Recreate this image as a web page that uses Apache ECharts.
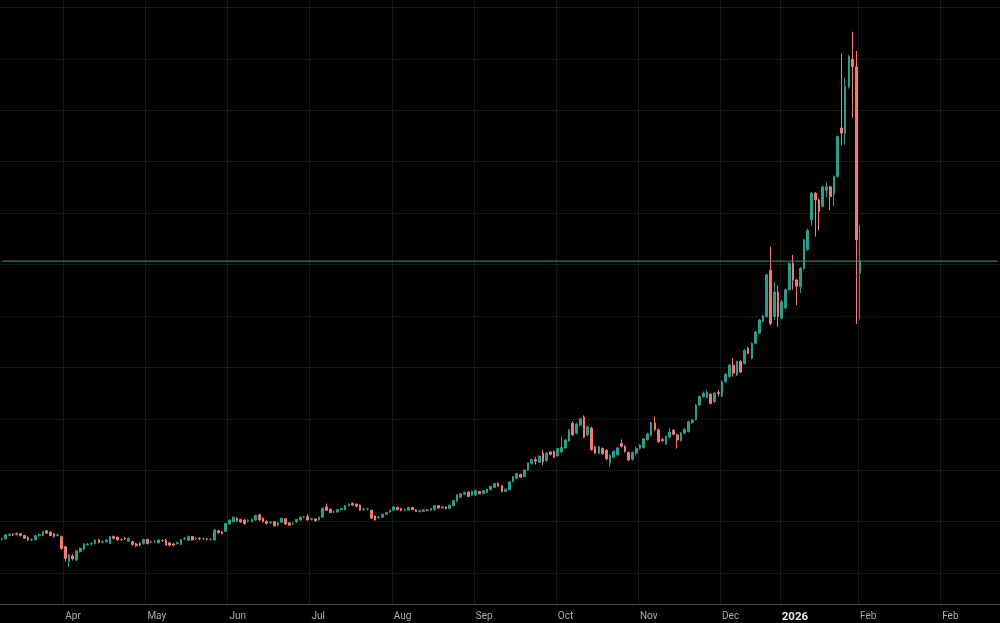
<!DOCTYPE html>
<html>
<head>
<meta charset="utf-8">
<script src="https://cdn.jsdelivr.net/npm/echarts@6/dist/echarts.min.js"></script>
<style>
  html, body { margin: 0; padding: 0; background: #000; }
  #main { width: 1000px; height: 623px; }
</style>
</head>
<body>
<div id="main"></div>
<script>
// daily bars, each row is [open, close, low, high]
const candles = [
  [32.9, 33.0, 32.7, 33.2], [33.0, 33.7, 32.9, 33.8], [33.6, 33.8, 33.5, 34.0], [33.8, 33.7, 33.5, 34.0],
  [33.9, 33.8, 33.6, 34.1], [33.9, 33.6, 33.4, 34.0], [33.6, 33.1, 33.0, 33.7], [33.3, 32.8, 32.6, 33.4],
  [32.8, 32.9, 32.6, 33.1], [32.85, 33.55, 32.7, 33.7], [33.6, 33.7, 33.4, 33.9], [33.6, 34.3, 33.5, 34.4],
  [34.4, 34.0, 33.9, 34.6], [34.2, 33.6, 33.5, 34.3], [33.9, 33.4, 33.2, 34.0], [33.6, 33.7, 33.4, 33.9],
  [33.4, 31.3, 31.1, 33.6], [31.6, 29.6, 29.0, 31.8], [29.0, 30.2, 28.1, 30.4], [30.0, 29.5, 29.2, 30.3],
  [29.3, 30.9, 29.1, 31.0], [30.75, 31.35, 30.6, 31.5], [31.2, 32.1, 31.0, 32.3], [32.0, 32.1, 31.8, 32.3],
  [32.1, 32.2, 31.9, 32.4], [32.2, 32.8, 32.0, 32.9], [32.8, 32.4, 32.2, 33.0], [32.4, 32.5, 32.2, 32.7],
  [32.5, 32.8, 32.4, 33.0], [32.2, 33.4, 32.1, 33.5], [33.4, 33.1, 32.9, 33.6], [33.3, 32.8, 32.7, 33.4],
  [32.8, 32.9, 32.6, 33.1], [33.1, 33.0, 32.8, 33.3], [32.6, 33.1, 32.5, 33.2],
  // May
  [32.5, 32.0, 31.8, 32.7], [32.1, 31.8, 31.6, 32.3], [32.2, 31.9, 31.7, 32.4], [32.2, 32.9, 32.0, 33.0],
  [32.9, 32.2, 32.0, 33.0], [32.4, 32.5, 32.2, 32.7], [32.5, 32.5, 32.3, 32.8], [32.3, 32.8, 32.2, 33.0],
  [32.7, 32.7, 32.5, 32.9], [32.8, 31.9, 31.8, 33.0], [32.3, 31.9, 31.7, 32.4], [32.1, 31.9, 31.7, 32.3],
  [32.2, 32.3, 32.0, 32.5], [32.0, 32.9, 31.9, 33.0], [33.0, 33.1, 32.8, 33.3], [32.7, 33.4, 32.6, 33.6],
  [33.4, 32.8, 32.7, 33.5], [33.0, 33.1, 32.8, 33.3], [33.1, 33.0, 32.8, 33.3], [33.0, 33.0, 32.8, 33.2],
  [33.0, 32.9, 32.7, 33.1], [32.9, 32.9, 32.7, 33.1], [32.8, 34.55, 32.7, 34.7], [34.4, 34.1, 33.9, 34.6],
  [34.2, 33.9, 33.8, 34.4], [34.3, 35.7, 34.2, 35.8], [35.6, 36.3, 35.5, 36.4], [36.0, 36.75, 35.9, 36.9],
  [36.6, 36.2, 36.0, 36.8], [36.4, 36.0, 35.8, 36.5], [36.3, 35.7, 35.5, 36.4], [36.1, 36.2, 35.9, 36.4],
  [36.0, 36.4, 35.9, 36.5],
  // late June - Aug
  [36.3, 37.1, 36.2, 37.2], [37.2, 36.3, 36.2, 37.4], [36.6, 36.0, 35.9, 36.8], [36.1, 35.7, 35.5, 36.2],
  [35.8, 35.9, 35.6, 36.1], [36.0, 35.3, 35.2, 36.1], [35.4, 35.8, 35.2, 36.0], [35.9, 36.6, 35.8, 36.7],
  [36.5, 35.6, 35.4, 36.6], [35.8, 35.4, 35.3, 35.9], [35.6, 35.7, 35.4, 35.9], [36.0, 36.4, 35.8, 36.5],
  [36.3, 36.8, 36.2, 36.9], [36.8, 36.8, 36.6, 37.0], [36.9, 36.3, 36.2, 37.3], [36.4, 36.5, 36.2, 36.7],
  [36.5, 36.2, 36.0, 36.6], [36.3, 36.8, 36.2, 36.9], [36.8, 38.35, 36.7, 38.5], [38.6, 38.0, 37.9, 39.2],
  [38.2, 37.6, 37.5, 38.3], [37.7, 37.7, 37.5, 37.9], [37.7, 38.1, 37.6, 38.2], [38.1, 38.3, 38.0, 38.4],
  [38.1, 38.8, 38.0, 38.9], [38.8, 39.05, 38.7, 39.2], [39.2, 38.9, 38.8, 39.4], [39.1, 38.7, 38.5, 39.2],
  [38.9, 38.0, 37.9, 39.0], [38.1, 38.2, 37.9, 38.4], [38.2, 38.2, 38.0, 38.4], [38.0, 36.6, 36.5, 38.1],
  [37.0, 36.3, 36.2, 37.1], [36.7, 36.8, 36.5, 37.0], [36.8, 37.3, 36.7, 37.4], [37.3, 37.6, 37.2, 37.7],
  [37.7, 38.0, 37.6, 38.1], [38.0, 38.6, 37.9, 38.7], [38.5, 38.1, 38.0, 38.7],
  // Aug - Sep
  [38.3, 38.0, 37.8, 38.4], [38.0, 38.1, 37.8, 38.3], [38.0, 38.5, 37.9, 38.6], [38.5, 38.1, 38.0, 38.6],
  [38.1, 37.8, 37.7, 38.2], [37.8, 37.9, 37.6, 38.1], [37.8, 38.1, 37.7, 38.2], [38.0, 38.0, 37.8, 38.2],
  [38.0, 38.3, 37.9, 38.4], [38.1, 38.8, 38.0, 38.9], [38.8, 38.4, 38.3, 38.9], [38.4, 38.6, 38.3, 38.8],
  [38.6, 38.3, 38.2, 38.7], [38.3, 38.9, 38.2, 39.0], [38.8, 39.7, 38.7, 39.8], [39.6, 40.7, 39.5, 40.8],
  [40.3, 40.9, 40.2, 41.0], [40.8, 41.1, 40.6, 41.3], [41.2, 40.4, 40.3, 41.3], [40.6, 41.3, 40.5, 41.4],
  [40.7, 41.4, 40.5, 41.7], [41.3, 40.9, 40.8, 41.4], [40.9, 41.4, 40.8, 41.5], [41.1, 41.7, 41.0, 41.8],
  [41.6, 42.2, 41.5, 42.3], [42.0, 42.7, 41.9, 42.8], [42.7, 42.2, 42.1, 42.9], [42.3, 41.3, 41.1, 42.4],
  [41.3, 41.7, 41.2, 41.8], [41.6, 43.0, 41.5, 43.1], [43.0, 43.9, 42.9, 44.0], [43.6, 44.4, 43.5, 44.5],
  [44.3, 43.8, 43.7, 44.4], [43.9, 45.05, 43.8, 45.2], [45.05, 46.3, 44.9, 46.4], [46.2, 46.9, 46.0, 47.0],
  [46.9, 46.6, 46.0, 47.3], [46.4, 47.5, 46.3, 47.6],
  // Oct - Nov
  [48.0, 46.5, 45.9, 48.6], [46.7, 48.0, 46.5, 48.2], [48.2, 47.8, 47.6, 48.4], [48.3, 47.3, 47.1, 48.5],
  [47.5, 48.8, 47.4, 48.9], [48.2, 49.0, 48.0, 50.9], [48.9, 50.3, 48.8, 50.5], [50.1, 52.0, 50.0, 52.2],
  [53.2, 51.2, 51.0, 53.6], [51.5, 53.1, 51.3, 53.3], [52.9, 54.0, 52.7, 54.2], [54.3, 50.8, 50.6, 54.6],
  [51.2, 52.6, 51.0, 52.8], [52.4, 48.6, 48.4, 52.6], [49.1, 48.0, 47.8, 49.3], [48.0, 49.1, 47.8, 49.3],
  [48.8, 47.9, 47.7, 49.0], [48.5, 47.0, 46.8, 48.7], [46.3, 47.6, 45.6, 47.8], [47.3, 48.3, 47.1, 48.5],
  [47.7, 48.9, 47.5, 49.1], [49.7, 49.2, 49.0, 50.4], [49.2, 48.3, 48.1, 49.4], [48.1, 46.8, 46.6, 48.3],
  [46.9, 48.1, 46.7, 48.3], [48.0, 48.8, 47.6, 49.2], [48.8, 49.4, 48.6, 49.6], [49.0, 50.5, 48.8, 50.7],
  [50.4, 51.4, 50.2, 51.6], [51.1, 53.3, 50.9, 53.5], [53.3, 52.1, 51.9, 54.4], [52.1, 50.0, 49.8, 52.3],
  [50.4, 50.2, 50.0, 50.6], [49.6, 50.9, 49.4, 51.1], [50.8, 51.7, 50.6, 52.4], [52.0, 51.3, 51.1, 52.2],
  [51.2, 50.3, 48.8, 51.4], [50.2, 51.5, 50.0, 51.7], [51.5, 52.2, 51.3, 52.4], [51.8, 53.5, 51.6, 53.7],
  [53.4, 53.8, 53.1, 54.0],
  // Dec - Feb
  [53.9, 56.4, 53.7, 56.6], [56.4, 57.9, 56.2, 58.1], [57.9, 58.5, 57.7, 58.8], [57.8, 58.7, 57.6, 59.0],
  [58.3, 56.7, 56.5, 58.5], [57.0, 58.5, 56.8, 58.7], [58.6, 58.4, 57.9, 59.0], [58.0, 60.5, 57.8, 60.7],
  [60.5, 61.8, 60.3, 62.0], [61.4, 63.4, 61.2, 63.6], [63.4, 62.0, 61.4, 64.6], [61.7, 64.0, 61.5, 64.2],
  [64.0, 62.2, 62.0, 64.3], [63.7, 66.0, 63.5, 66.2], [66.3, 65.5, 65.3, 66.6], [64.6, 67.2, 64.4, 67.4],
  [67.2, 69.2, 67.0, 69.4], [69.0, 71.3, 68.8, 71.5], [71.1, 72.0, 70.9, 72.2], [71.9, 79.2, 71.7, 79.4],
  [80.0, 70.7, 70.4, 84.1], [71.9, 76.2, 71.3, 78.0], [76.2, 71.9, 70.1, 77.4], [71.6, 74.5, 71.4, 74.8],
  [73.4, 76.6, 73.2, 76.8], [76.6, 81.2, 76.4, 81.4], [81.2, 78.3, 76.6, 82.7], [78.3, 77.2, 73.9, 78.5],
  [77.1, 80.3, 76.0, 80.6], [80.3, 85.3, 80.1, 85.5], [83.6, 87.0, 83.4, 87.3], [88.8, 93.5, 87.8, 93.7],
  [93.5, 92.3, 85.9, 93.7], [92.3, 90.3, 87.0, 92.5], [91.2, 94.6, 91.0, 94.8], [94.0, 94.6, 92.8, 95.4],
  [94.6, 92.9, 90.5, 94.8], [93.2, 96.4, 91.2, 96.6], [96.4, 103.4, 96.2, 103.6], [104.9, 104.0, 101.9, 118.0],
  [104.0, 112.1, 102.0, 113.7], [112.1, 117.4, 111.8, 117.7], [116.9, 115.6, 106.7, 121.75], [115.6, 85.3, 70.6, 118.4],
  [79.5, 81.6, 71.4, 87.9]
];

const emptyDays = 37; // blank space right of the last bar
const tickPos = [17, 39, 61, 83, 105, 127, 149, 171, 193, 209, 230, 252];
const tickText = ['Apr', 'May', 'Jun', 'Jul', 'Aug', 'Sep', 'Oct', 'Nov', 'Dec', '2026', 'Feb', 'Feb'];
const priceLevels = [27, 36, 45, 54, 63, 72, 81, 90, 99, 108, 117, 126];

const lastClose = candles[candles.length - 1][1];

let days = [];
for (let i = 0; i < candles.length + emptyDays; i++) {
  days.push(i);
}

function isTick(i) {
  return tickPos.indexOf(i) >= 0;
}

let myChart = echarts.init(document.getElementById('main'));
var option;

option = {
  backgroundColor: '#000000',
  animation: false,
  grid: {
    left: 0,
    right: 0,
    top: 0,
    bottom: 19
  },
  xAxis: {
    type: 'category',
    data: days,
    boundaryGap: true,
    axisLine: {
      lineStyle: { color: '#4a4a4a' }
    },
    axisTick: {
      interval: isTick,
      alignWithLabel: true,
      length: 3,
      lineStyle: { color: '#4a4a4a' }
    },
    axisLabel: {
      interval: isTick,
      margin: 7,
      align: 'left',
      color: '#a9acb4',
      fontFamily: 'Roboto',
      fontSize: 10,
      formatter: function (value, index) {
        let k = tickPos.indexOf(Number(value));
        if (k < 0) return '';
        let t = tickText[k];
        return /^\d{4}$/.test(t) ? '{yr|' + t + '}' : t;
      },
      rich: {
        yr: {
          fontFamily: 'Roboto',
          fontWeight: 'bold',
          fontSize: 11.5,
          color: '#e6e8ee'
        }
      }
    },
    splitLine: {
      show: true,
      interval: isTick,
      lineStyle: { color: '#181818', width: 1 }
    }
  },
  yAxis: {
    type: 'value',
    min: 21.6,
    max: 127.3,
    show: false
  },
  series: [{
    // horizontal price grid
    type: 'line',
    data: [],
    markLine: {
      silent: true,
      symbol: 'none',
      z: 1,
      label: { show: false },
      lineStyle: { color: '#181818', type: 'solid', width: 1 },
      data: priceLevels.map(function (v) { return { yAxis: v }; })
    }
  }, {
    type: 'candlestick',
    data: candles,
    barWidth: 2.2,
    itemStyle: {
      color: '#2c9c8b',
      color0: '#ee7c75',
      borderColor: '#2c9c8b',
      borderColor0: '#ee7c75',
      borderWidth: 1
    }
  }, {
    // last price line, spanning the first to the last day slot
    type: 'line',
    silent: true,
    symbol: 'none',
    z: 3,
    lineStyle: { color: '#4d8f7c', width: 1 },
    data: [[days[0], lastClose], [days[days.length - 1], lastClose]]
  }]
};

myChart.setOption(option);
window.addEventListener('resize', function () {
  myChart.resize();
});
</script>
</body>
</html>
